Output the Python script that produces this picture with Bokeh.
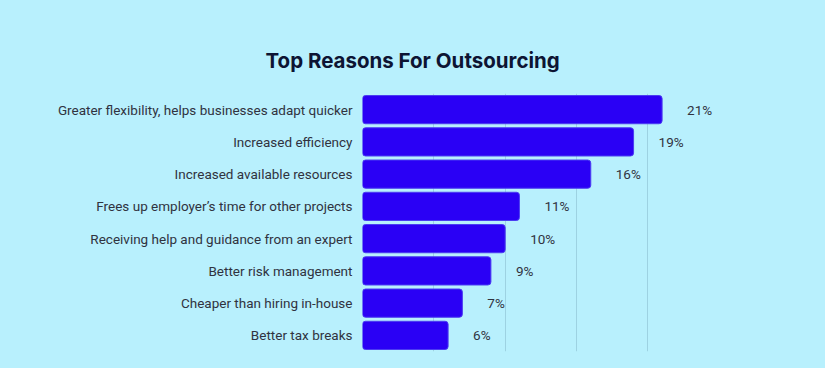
from bokeh.plotting import figure
from bokeh.models import ColumnDataSource, Title, FixedTicker, Range1d
from bokeh.core.properties import value
from bokeh.embed import file_html
from bokeh.resources import INLINE

categories = [
    "Greater flexibility, helps businesses adapt quicker",
    "Increased efficiency",
    "Increased available resources",
    "Frees up employer\u2019s time for other projects",
    "Receiving help and guidance from an expert",
    "Better risk management",
    "Cheaper than hiring in-house",
    "Better tax breaks",
]
values = [21, 19, 16, 11, 10, 9, 7, 6]
value_labels = [f"{v}%" for v in values]
title_text = "Top Reasons For Outsourcing"

BG = "#b8f0fd"
BAR = "#2a00f5"
FONT = "Roboto"

src = ColumnDataSource(dict(cat=categories, val=values, lab=value_labels))

p = figure(
    width=825, height=368,
    y_range=list(reversed(categories)),
    x_range=Range1d(0, 30),
    output_backend="svg", toolbar_location=None,
    min_border_left=362, min_border_right=35,
    min_border_top=93, min_border_bottom=17,
)
p.background_fill_color = BG
p.border_fill_color = BG
p.outline_line_color = None
p.y_range.range_padding = 0

p.hbar(y="cat", right="val", left=0, height=0.875, source=src,
       fill_color=BAR, line_color="#4b3cf2", line_width=1, border_radius=3)

p.text(x="val", y="cat", text="lab", source=src, x_offset=25,
       text_align="left", text_baseline="middle",
       text_font=value(FONT), text_font_size="13.5px", text_color="#30333f")

p.xaxis.visible = False
p.xgrid.ticker = FixedTicker(ticks=[5, 10, 15, 20])
p.xgrid.grid_line_color = "#9dd2e2"
p.xgrid.grid_line_width = 1
p.ygrid.grid_line_color = None

ya = p.yaxis[0]
ya.axis_line_color = None
ya.major_tick_line_color = None
ya.minor_tick_line_color = None
ya.major_tick_out = 0
ya.major_tick_in = 0
ya.major_label_standoff = 10
ya.major_label_text_font = FONT
ya.major_label_text_font_size = "13.5px"
ya.major_label_text_color = "#30333f"

title = Title(text=title_text, align="left", offset=-97, standoff=42,
              text_font="Inter", text_font_size="20.5px", text_font_style="bold",
              text_color="#0d1433")
p.add_layout(title, "above")

html = file_html(p, INLINE)
html = html.replace("</head>", "<style>html,body{background:%s;}</style></head>" % BG, 1)
open("out.html", "w").write(html)
